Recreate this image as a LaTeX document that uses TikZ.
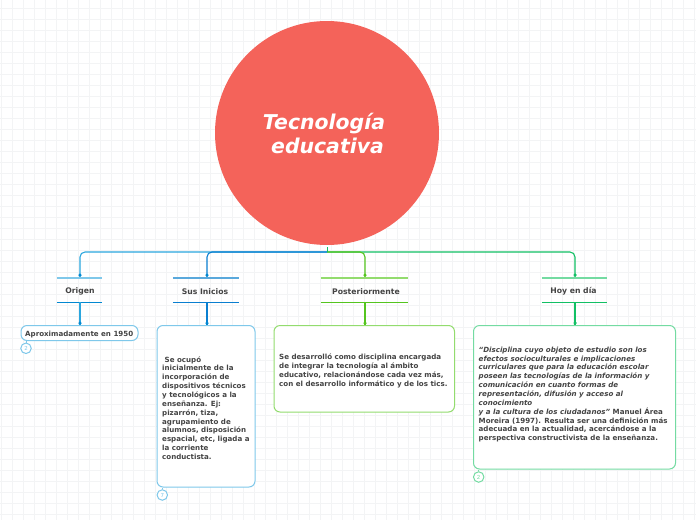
\documentclass[tikz,border=0pt]{standalone}
\usepackage{fontspec}
\setmainfont{DejaVu Sans}
\definecolor{blueW}{HTML}{2BA6DE}
\definecolor{blueA}{HTML}{0288D1}
\definecolor{blueL}{HTML}{7FC8EA}
\definecolor{blueM}{HTML}{5AA9DC}
\definecolor{blueB}{HTML}{0A7FD0}
\definecolor{greenA}{HTML}{55C51F}
\definecolor{greenL}{HTML}{93DC6E}
\definecolor{teal}{HTML}{12C064}
\definecolor{tealL}{HTML}{74DBA2}
\definecolor{ink}{HTML}{444444}
\definecolor{gridc}{HTML}{F3F4F5}
\definecolor{coral}{HTML}{F4635A}
\tikzset{
  x=1pt,y=-1pt,
  body/.style={font=\bfseries\fontsize{7.1}{8.85}\selectfont,text=ink,inner sep=0pt,align=left,anchor=west},
  head/.style={font=\bfseries\fontsize{7.7}{9}\selectfont,text=ink,inner sep=0pt},
  headbox/.style={inner sep=0pt,minimum height=24pt,minimum width=#1},
  box/.style={draw=#1,rounded corners=6pt,line width=1pt,fill=white,inner sep=0pt},
  badge/.style={circle,draw=#1,line width=1pt,fill=white,minimum size=10.5pt,inner sep=0pt,font=\fontsize{5.5}{6}\selectfont,text=#1},
  wire/.style={draw=#1,line width=1.1pt,rounded corners=5pt},
  drop/.style={draw=#1,line width=1.3pt},
  toprule/.style={draw=#1,line width=1.7pt},
  botrule/.style={draw=#1,line width=1.1pt},
  tip/.style={circle,fill=#1,inner sep=0pt,minimum size=3.5pt}
}
\begin{document}
\begin{tikzpicture}
\useasboundingbox (0,0) rectangle (696,520);
\fill[white] (0,0) rectangle (696,520);
\foreach \i in {0,...,63} \draw[gridc,line width=.8pt] ({\i*11+1},0) -- ({\i*11+1},520);
\foreach \i in {0,...,47} \draw[gridc,line width=.8pt] (0,{\i*11+8}) -- (696,{\i*11+8});
% central topic
\node[circle,fill=coral,minimum size=224pt,inner sep=0pt] (root) at (327,133) {};
\node[font=\bfseries\itshape\fontsize{20.4}{24.5}\selectfont,text=white,align=center,inner sep=0pt] (title) at (324,133.5) {Tecnología\\ \hspace*{7pt}educativa};
\coordinate (hub) at (327,252);
\coordinate (w1) at (80,252); \coordinate (w2) at (207,252);
\coordinate (w3) at (365,252); \coordinate (w4) at (575,252);
% header blocks (rule above and below)
\node[headbox=45pt] (n1) at (79.5,290) {};
\node[headbox=66pt] (n2) at (206,290) {};
\node[headbox=87pt] (n3) at (364.5,290) {};
\node[headbox=65pt] (n4) at (574.5,290) {};
\node[head] (l1) at (80,291.6) {Origen};
\node[head] (l2) at (205,291.6) {Sus Inicios};
\node[head] (l3) at (366,291.6) {Posteriormente};
\node[head] (l4) at (573.5,291.6) {Hoy en día};
% boxes
\node[box=blueL,minimum width=117pt,minimum height=15pt] (b1) at (79.5,333) {};
\node[box=blueL,minimum width=98pt,minimum height=161.5pt] (b2) at (206,406.25) {};
\node[box=greenL,minimum width=180.5pt,minimum height=86.5pt] (b3) at (364.25,368.75) {};
\node[box=tealL,minimum width=202pt,minimum height=143.5pt] (b4) at (574.5,397.25) {};
% wires from the root
\draw[wire=teal] (hub) -- (w4) -- (w4 |- n4.north);
\draw[wire=blueW] (hub) -- (w1) -- (w1 |- n1.north);
\draw[wire=blueB] (hub) -- (w2) -- (w2 |- n2.north);
\draw[wire=greenA] (hub) -- (w3) -- (w3 |- n3.north);
\draw[teal,line width=1pt] (327,247) -- (hub);
% header rules
\draw[toprule=blueL] (n1.north west) -- (n1.north east);
\draw[botrule=blueA] (n1.south west) -- (n1.south east);
\draw[toprule=blueM] (n2.north west) -- (n2.north east);
\draw[botrule=blueB] (n2.south west) -- (n2.south east);
\draw[toprule=greenL] (n3.north west) -- (n3.north east);
\draw[botrule=greenA] (n3.south west) -- (n3.south east);
\draw[toprule=tealL] (n4.north west) -- (n4.north east);
\draw[botrule=teal] (n4.south west) -- (n4.south east);
% connectors from header to box
\draw[drop=blueW] (w1 |- n1.south) -- (w1 |- b1.north);
\draw[drop=blueB] (w2 |- n2.south) -- (w2 |- b2.north);
\draw[drop=greenA] (w3 |- n3.south) -- (w3 |- b3.north);
\draw[drop=teal] (w4 |- n4.south) -- (w4 |- b4.north);
\node[tip=blueA] at (80,275) {}; \node[tip=blueA] at (207,275) {};
\node[tip=greenA] at (365,275) {}; \node[tip=teal] at (575,275) {};
\node[tip=blueA] at (80,323) {}; \node[tip=blueA] at (207,323) {};
\node[tip=greenA] at (365,323) {}; \node[tip=teal] at (575,323) {};
% texts
\node[body] (t1) at (25,334.4) {Aproximadamente en 1950};
\node[body] (t2) at (162,408) {\hspace*{2.5pt}Se ocupó\\ inicialmente de la\\ incorporación de\\ dispositivos técnicos\\ y tecnológicos a la\\ enseñanza. Ej:\\ pizarrón, tiza,\\ agrupamiento de\\ alumnos, disposición\\ espacial, etc, ligada a\\ la corriente\\ conductista.};
\node[body] (t3) at (279,371) {Se desarrolló como disciplina encargada\\ de integrar la tecnología al ámbito\\ educativo, relacionándose cada vez más,\\ con el desarrollo informático y de los tics.};
\node[body] (t4) at (478.5,394.5) {\textit{“Disciplina cuyo objeto de estudio son los}\\ \textit{efectos socioculturales e implicaciones}\\ \textit{curriculares que para la educación escolar}\\ \textit{poseen las tecnologías de la información y}\\ \textit{comunicación en cuanto formas de}\\ \textit{representación, difusión y acceso al}\\ \textit{conocimiento}\\ \textit{y a la cultura de los ciudadanos”} Manuel Área\\ Moreira (1997). Resulta ser una definición más\\ adecuada en la actualidad, acercándose a la\\ perspectiva constructivista de la enseñanza.};
% badges
\node[badge=blueL] (c1) at (26,348.3) {2};
\node[badge=blueL] (c2) at (162.3,495) {7};
\node[badge=tealL] (c4) at (478.7,477) {2};
\draw[blueL,line width=1pt] (c1.north) -- (c1.north |- b1.south);
\draw[blueL,line width=1pt] (c2.north) -- (c2.north |- b2.south);
\draw[tealL,line width=1pt] (c4.north) -- (c4.north |- b4.south);
\end{tikzpicture}
\end{document}
